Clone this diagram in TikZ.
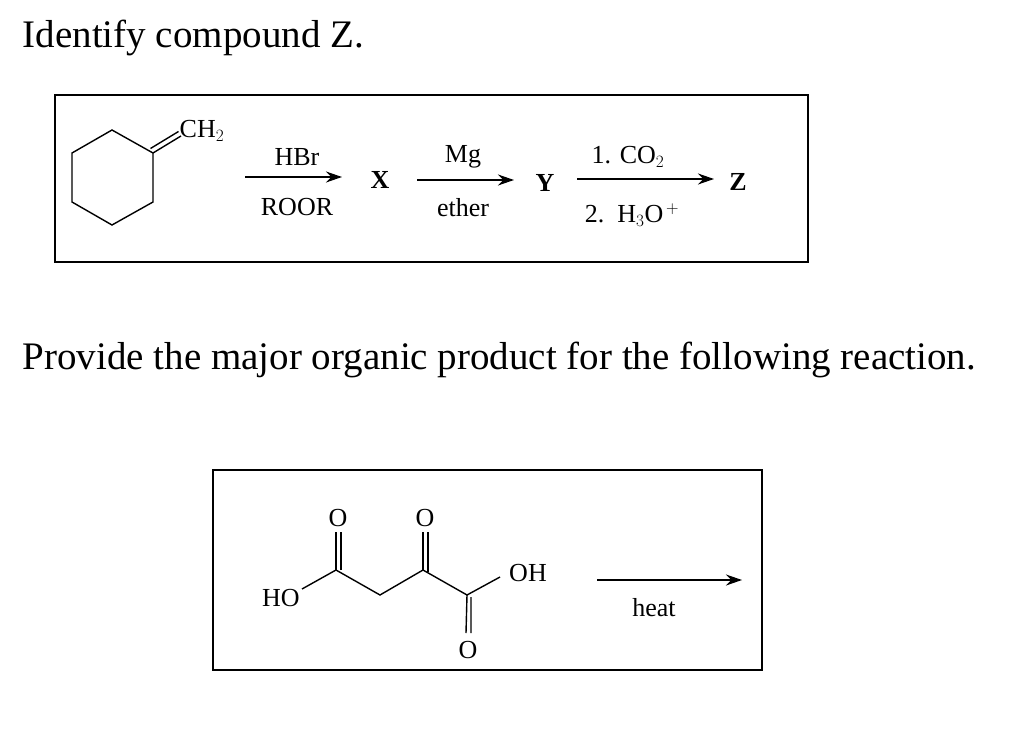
\documentclass[tikz,border=0pt]{standalone}
\usepackage{fontspec}
\setmainfont{Liberation Serif}
\usetikzlibrary{calc,arrows.meta}
\begin{document}
\begin{tikzpicture}[x=1pt,y=-1pt,line width=1.4pt,
  big/.style={font=\fontsize{39}{42}\selectfont,anchor=west,inner sep=0},
  lab/.style={font=\fontsize{26}{28}\selectfont,inner sep=1pt},
  blab/.style={font=\fontsize{26}{28}\selectfont\bfseries,inner sep=1pt},
  bond/.style={line width=1.4pt},
  rxn/.style={line width=1.5pt,-{Stealth[length=16pt,width=11pt]}},
  box/.style={draw,line width=1.5pt}]
\useasboundingbox (0,0) rectangle (1024,730);
\node[big] (t1) at (22,38) {Identify compound Z.};
\node[big] (t2) at (22,360) {Provide the major organic product for the following reaction.};
\draw[box] (55,95) rectangle (808,262);
% hexagon
\coordinate (a) at (112,130); \coordinate (b) at (153,153); \coordinate (c) at (153,202);
\coordinate (d) at (112,225); \coordinate (e) at (72,202); \coordinate (f) at (72,153);
\draw[bond] (a)--(b)--(c)--(d)--(e)--(f)--cycle;
\coordinate (m) at (181,136);
\draw[bond] (b)--(m);
\draw[bond] ($(b)+(-2.5,-4.5)$)--($(m)+(-2.5,-4.5)$);
\node[lab,anchor=west] (ch2) at (178,131) {CH$_2$};
\coordinate (a1s) at (245,177); \coordinate (a1e) at (342,177);
\draw[rxn] (a1s)--(a1e);
\node[lab] (hbr) at (297,157) {HBr};
\node[lab] (roor) at (297,207) {ROOR};
\node[blab] (X) at (380,180) {X};
\coordinate (a2s) at (417,180); \coordinate (a2e) at (514,180);
\draw[rxn] (a2s)--(a2e);
\node[lab] (mg) at (463,157) {Mg};
\node[lab] (eth) at (463,208) {ether};
\node[blab] (Y) at (545,183) {Y};
\coordinate (a3s) at (577,179); \coordinate (a3e) at (714,179);
\draw[rxn] (a3s)--(a3e);
\node[lab] (co2) at (628,157) {1. CO$_2$};
\node[lab] (h3o) at (632,215) {2.\ \ H$_3$O$^{\,+}$};
\node[blab] (Z) at (738,182) {Z};
% bottom
\draw[box] (213,470) rectangle (762,670);
\coordinate (ho) at (302,589); \coordinate (c1) at (336,570);
\coordinate (ch) at (380,595); \coordinate (c2) at (423,570);
\coordinate (c3) at (467,595); \coordinate (oh) at (500,577);
\draw[bond] (ho)--(c1)--(ch)--(c2)--(c3)--(oh);
\draw[bond] (c1)--(336,532) (341,570)--(341,532);
\draw[bond] (c2)--(423,532) (428,572)--(428,532);
\draw[bond] (c3)--(466,633) (471,597)--(471,633);
\node[lab] (HO) at (281,598) {HO};
\node[lab] (O1) at (338,518) {O};
\node[lab] (O2) at (425,518) {O};
\node[lab] (O3) at (468,650) {O};
\node[lab] (OH) at (528,573) {OH};
\coordinate (a4s) at (597,580); \coordinate (a4e) at (742,580);
\draw[rxn] (a4s)--(a4e);
\node[lab] (heat) at (654,608) {heat};
\end{tikzpicture}
\end{document}
